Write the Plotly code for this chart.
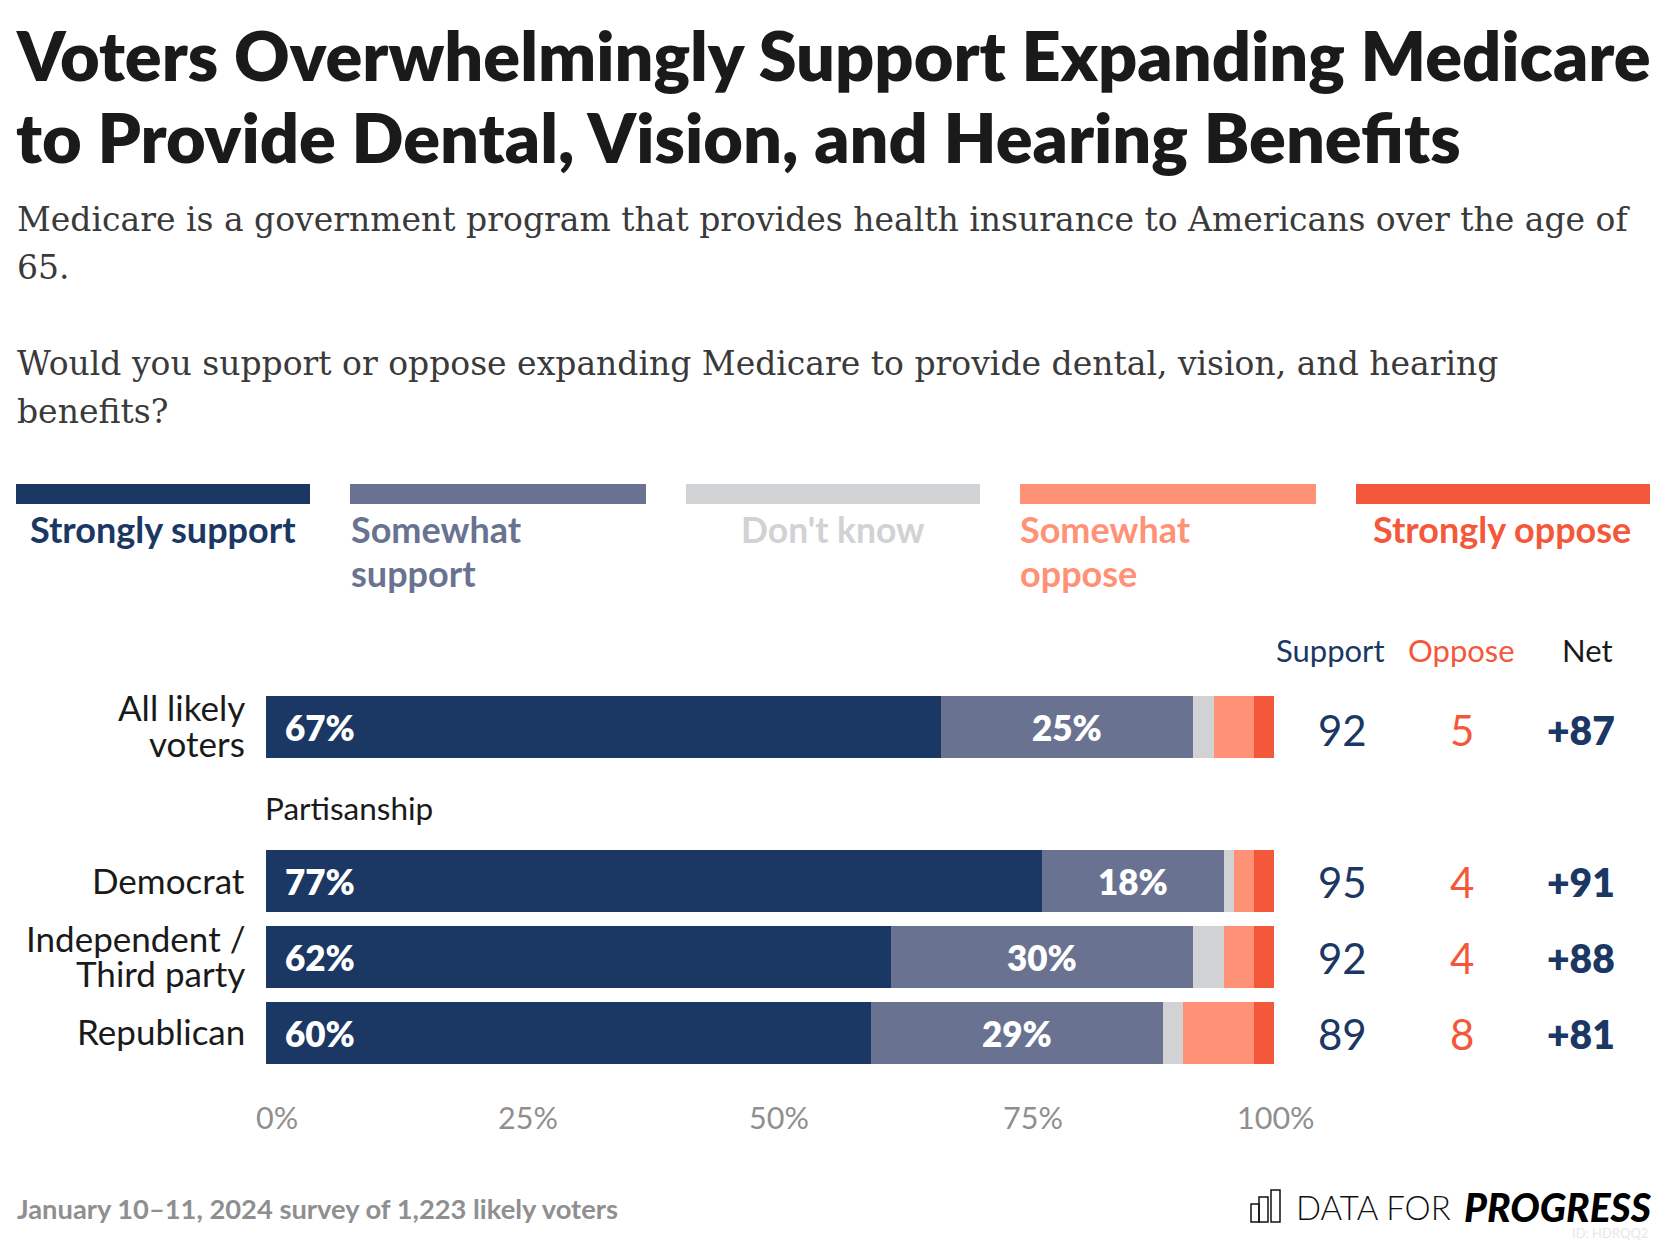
import plotly.graph_objects as go

W, H = 1666, 1242

title_lines = ["Voters Overwhelmingly Support Expanding Medicare",
               "to Provide Dental, Vision, and Hearing Benefits"]
subtitle_lines = ["Medicare is a government program that provides health insurance to Americans over the age of",
                  "65.",
                  "Would you support or oppose expanding Medicare to provide dental, vision, and hearing",
                  "benefits?"]
footnote = "January 10–11, 2024 survey of 1,223 likely voters"

series_names = ["Strongly support", "Somewhat support", "Don't know", "Somewhat oppose", "Strongly oppose"]
series_colors = ["#1b3763", "#697391", "#d1d2d4", "#ff9177", "#f4583a"]

overall_group = ["All likely voters"]
party_groups = ["Democrat", "Independent / Third party", "Republican"]

overall_values = [[67], [25], [2], [4], [2]]
party_values = [[77, 62, 60], [18, 30, 29], [1, 3, 2], [2, 3, 7], [2, 2, 2]]

support_totals = [92, 95, 92, 89]
oppose_totals = [5, 4, 4, 8]
net_totals = ["+87", "+91", "+88", "+81"]

tick_values = [0, 25, 50, 75, 100]
tick_labels = ["0%", "25%", "50%", "75%", "100%"]
tick_shifts = [11, 10, 9, 11, 2]

SANS = "Lato"
SERIF = "DejaVu Serif"
INK = "#1a1a1a"
NAVY = series_colors[0]
RED = series_colors[4]


def px(v):
    return v / W


def py(v):
    return 1 - v / H


def text(s, x, y, size, color=INK, weight=400, anchor="left", family=SANS, italic=False):
    return dict(text=s, x=px(x), y=py(y), xref="paper", yref="paper", xanchor=anchor, yanchor="middle",
                showarrow=False, borderpad=0,
                font=dict(family=family, size=size, color=color, weight=weight,
                          style="italic" if italic else "normal"))


fig = go.Figure()
for i, name in enumerate(series_names):
    fig.add_bar(name=name, orientation="h", x=overall_values[i], y=overall_group, yaxis="y",
                marker=dict(color=series_colors[i], line_width=0), showlegend=False)
    fig.add_bar(name=name, orientation="h", x=party_values[i], y=party_groups, yaxis="y2",
                marker=dict(color=series_colors[i], line_width=0), showlegend=False)

ann = []
for k, line in enumerate(title_lines):
    ann.append(text(line, 15, 55 + k * 81, 68.4, INK, 800))
for line, y in zip(subtitle_lines, [219, 268, 364, 412]):
    ann.append(text(line, 16, y, 33, "#3a3a3a", 400, family=SERIF))

# Legend captions sit under their swatches
ann.append(text("Strongly support", 163, 529, 36, series_colors[0], 700, "center"))
ann.append(text("Somewhat", 350, 529, 36, series_colors[1], 700))
ann.append(text("support", 350, 573, 36, series_colors[1], 700))
ann.append(text("Don't know", 833, 529, 35.5, series_colors[2], 700, "center"))
ann.append(text("Somewhat", 1019, 529, 36, series_colors[3], 700))
ann.append(text("oppose", 1019, 573, 36, series_colors[3], 700))
ann.append(text("Strongly oppose", 1502, 529, 36, series_colors[4], 700, "center"))

# Row labels
for line, y in [("All likely", 707), ("voters", 743), ("Democrat", 880), ("Independent /", 938),
                ("Third party", 973), ("Republican", 1031)]:
    ann.append(text(line, 246, y, 35, INK, 400, "right"))
ann.append(text("Partisanship", 264, 808, 31.5, INK))

# Summary columns
ann.append(text("Support", 1330, 650, 31, NAVY, 400, "center"))
ann.append(text("Oppose", 1461, 650, 31, RED, 400, "center"))
ann.append(text("Net", 1587, 650, 31, INK, 400, "center"))
for y, s, o, n in zip([730, 882, 958, 1034], support_totals, oppose_totals, net_totals):
    ann.append(text(str(s), 1342, y, 42, NAVY, 400, "center"))
    ann.append(text(str(o), 1462, y, 42, RED, 400, "center"))
    ann.append(text(n, 1581, y, 39, NAVY, 800, "center"))

# Percentage labels for the two support segments
rows = [("y", overall_group, overall_values), ("y2", party_groups, party_values)]
for yref, groups, values in rows:
    for r, group in enumerate(groups):
        strong, some = values[0][r], values[1][r]
        ann.append(dict(text=f"{strong}%", x=0, y=r, xref="x", yref=yref, xanchor="left", yanchor="middle",
                        xshift=17, showarrow=False,
                        font=dict(family=SANS, size=35, color="white", weight=800)))
        ann.append(dict(text=f"{some}%", x=strong + some / 2, y=r, xref="x", yref=yref, xanchor="center",
                        yanchor="middle", showarrow=False,
                        font=dict(family=SANS, size=35, color="white", weight=800)))

# Value axis labels
for v, label, shift in zip(tick_values, tick_labels, tick_shifts):
    ann.append(dict(text=label, x=v, y=py(1117), xref="x", yref="paper", xanchor="center", yanchor="middle",
                    xshift=shift, showarrow=False, font=dict(family=SANS, size=30.5, color="#8f8f8f")))

ann.append(text(footnote, 16, 1208, 27.3, "#8f8f8f", 700))
ann.append(text("DATA FOR", 1295, 1207, 33, "#111111", 300))
ann.append(text("PROGRESS", 1463, 1207, 39, "#000000", 900, italic=True))
ann.append(text("ID: HDRQQ2", 1649, 1233, 13, "#e8e8e8", 400, "right"))

shapes = []
for (x0, x1), color in zip([(16, 310), (350, 646), (686, 980), (1020, 1316), (1356, 1650)], series_colors):
    shapes.append(dict(type="rect", xref="paper", yref="paper", x0=px(x0), x1=px(x1), y0=py(504), y1=py(484),
                       fillcolor=color, line_width=0))
# Bar-chart mark in the wordmark
for x0, x1, top in [(1251, 1259, 1204), (1259, 1268, 1197), (1271, 1280, 1190)]:
    shapes.append(dict(type="rect", xref="paper", yref="paper", x0=px(x0), x1=px(x1), y0=py(1222), y1=py(top),
                       fillcolor="rgba(0,0,0,0)", line=dict(color="#111111", width=1.5)))

fig.update_layout(
    width=W, height=H, margin=dict(l=0, r=0, t=0, b=0),
    paper_bgcolor="white", plot_bgcolor="white",
    barmode="stack", bargap=0.184, showlegend=False,
    xaxis=dict(domain=[px(266), px(1274)], range=[0, 100], visible=False, tickvals=tick_values, ticktext=tick_labels),
    yaxis=dict(domain=[py(765), py(689)], visible=False, type="category"),
    yaxis2=dict(domain=[py(1071), py(843)], visible=False, type="category", autorange="reversed"),
    annotations=ann, shapes=shapes,
)

fig.write_html("out.html")
